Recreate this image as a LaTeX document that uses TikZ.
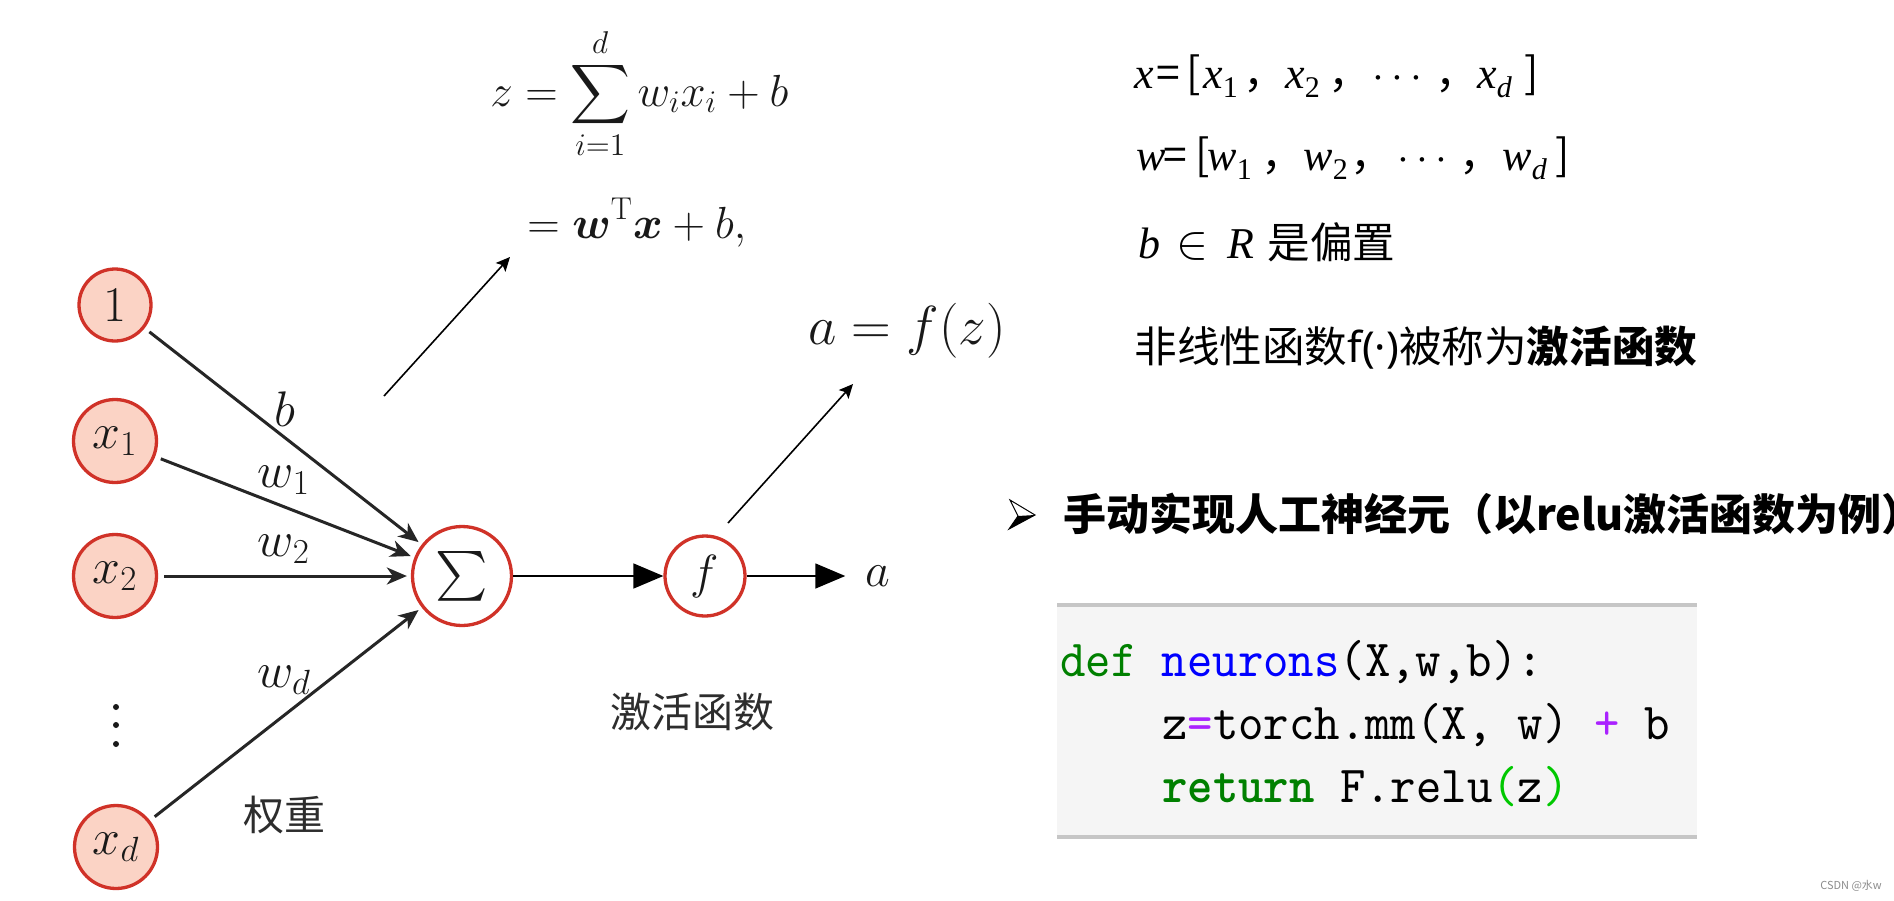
\RequirePackage{fix-cm}
\documentclass[tikz,border=0pt]{standalone}
\usepackage{amsmath}
\usepackage{fontspec}
\usetikzlibrary{arrows.meta}
\newfontfamily\cjk{Noto Sans CJK SC}
\newfontfamily\latsans{Noto Sans}
\newfontfamily\serifit{Liberation Serif}
\newfontfamily\codefont{lmmono10-regular.otf}[FakeStretch=0.93,BoldFont=lmmonolt10-bold.otf]
\newcommand\myit[1]{{\serifit\itshape\fontsize{22}{26}\selectfont #1}}
\newcommand\mysub[1]{\raisebox{-4.5pt}{\serifit\fontsize{15}{15}\selectfont #1}}
\newcommand\seg[2]{\makebox[#1][l]{#2}}
\definecolor{nred}{RGB}{208,50,40}
\definecolor{nfill}{RGB}{251,211,197}
\definecolor{arrgray}{RGB}{38,38,38}
\definecolor{txt}{RGB}{25,25,25}
\definecolor{cjkgray}{RGB}{45,45,45}
\definecolor{codebg}{RGB}{245,245,245}
\definecolor{codeline}{RGB}{198,198,198}
\definecolor{cgreen}{RGB}{0,128,0}
\definecolor{cblue}{RGB}{0,0,255}
\definecolor{cpurple}{RGB}{170,34,255}
\definecolor{cgreenb}{RGB}{0,200,0}
\begin{document}
\begin{tikzpicture}[x=0.5pt,y=-0.5pt,
  neuron/.style={circle,draw=nred,line width=1.65pt,fill=nfill,inner sep=0pt,
    minimum size=41.5pt,text=txt,font=\fontsize{25}{30}\selectfont},
  incon/.style={draw=arrgray,line width=1.5pt,shorten <=3pt,shorten >=2pt,
    -{Stealth[length=10pt,width=8.5pt,inset=3pt]}},
  flow/.style={draw=black,line width=0.8pt,-{Triangle[length=15pt,width=12.5pt]}},
  uparrow/.style={draw=black,line width=0.8pt,-{Stealth[length=7pt,width=6.5pt,inset=1.5pt]}},
  wlabel/.style={inner sep=0pt,text=txt,font=\fontsize{25}{30}\selectfont},
  cjklabel/.style={inner sep=0pt,text=cjkgray,font=\cjk\fontsize{20.5}{24}\selectfont},
  eqtext/.style={anchor=base west,inner sep=0pt,text=txt},
  rtext/.style={anchor=base west,inner sep=0pt,text=black,font=\cjk\fontsize{21.3}{25}\selectfont},
  codetext/.style={anchor=base west,inner sep=0pt,text=black,font=\codefont\fontsize{26}{30}\selectfont}
]
\useasboundingbox (0,0) rectangle (1894,900);
\fill[white] (0,0) rectangle (1894,900);

% ---- neurons
\node[neuron,minimum size=36pt] (n1) at (115,305) {$1$};
\node[neuron] (x1) at (115,441) {$x_1$};
\node[neuron] (x2) at (115,576) {$x_2$};
\node[neuron] (xd) at (116,847) {$x_d$};
\node[neuron,fill=white,minimum size=49.5pt] (sum) at (462,576) {$\sum$};
\node[neuron,fill=white,minimum size=40pt,font=\fontsize{24}{28}\selectfont] (f) at (705,576) {$f$};
\node[inner sep=10pt,text=txt,font=\fontsize{24}{28}\selectfont] (aout) at (878,576) {$a$};

% vertical dots
\foreach \yy in {707,725,744} \fill[txt] (116,\yy) circle (1.5pt);

% ---- connectors
\draw[incon] (n1) -- (sum);
\draw[incon] (x1) -- (sum);
\draw[incon] (x2) -- (sum);
\draw[incon] (xd) -- (sum);
\draw[flow] (sum) -- (f);
\draw[flow] (f) -- (aout);

% weight labels
\node[wlabel] (lb) at (285,409) {$b$};
\node[wlabel] (lw1) at (284,480) {$w_1$};
\node[wlabel] (lw2) at (284,549) {$w_2$};
\node[wlabel] (lwd) at (284,680) {$w_d$};
\node[cjklabel] (quanzhong) at (284,815) {权重};
\node[cjklabel] (jihuo) at (692,712) {激活函数};

% pointer arrows
\coordinate (u1s) at (384,396);
\coordinate (u1e) at (510,257);
\draw[uparrow] (u1s) -- (u1e);
\coordinate (u2s) at (728,523);
\coordinate (u2e) at (853,384);
\draw[uparrow] (u2s) -- (u2e);

% ---- formulas
\node[eqtext,font=\fontsize{22.5}{27}\selectfont] (eq1) at (490,106)
  {$\displaystyle z = \sum_{i=1}^{d} w_i x_i + b$};
\node[eqtext,font=\fontsize{22.5}{27}\selectfont] (eq2) at (527,238)
  {$\displaystyle = \boldsymbol{w}^{\mathrm{T}}\boldsymbol{x} + b,$};
\node[eqtext,font=\fontsize{27.5}{33}\selectfont] (eq3) at (808,344) {$a = f(z)$};

% ---- right text
\node[rtext] (r1) at (1134,88)
  {\seg{11pt}{\myit{x}}\seg{15pt}{=}\seg{8.5pt}{[}\seg{20pt}{\myit{x}\mysub{1}}\seg{21pt}{，}\seg{21.5pt}{\myit{x}\mysub{2}}\seg{22pt}{，}\seg{31.5pt}{$\cdots$}\seg{21pt}{，}\seg{23.5pt}{\myit{x}\mysub{\itshape d}}]};
\node[rtext] (r2) at (1136,170)
  {\seg{13.5pt}{\myit{w}}\seg{16pt}{=}\seg{6pt}{[}\seg{27pt}{\myit{w}\mysub{1}}\seg{21pt}{，}\seg{23.5pt}{\myit{w}\mysub{2}}\seg{23.5pt}{，}\seg{31pt}{$\cdots$}\seg{21.5pt}{，}\seg{26.5pt}{\myit{w}\mysub{\itshape d}}]};
\node[rtext] (r3) at (1138,258)
  {\seg{19pt}{\myit{b}}\seg{25.5pt}{\fontsize{24}{28}\selectfont$\in$}\seg{20pt}{\myit{R}}是偏置};
\node[rtext] (r4) at (1134,362)
  {非线性函数{\latsans f(·)}被称为{\bfseries 激活函数}};

% ---- heading with bullet
\draw[black,line width=0.5pt,fill=white] (1010,500) -- (1035,515) -- (1009,529) -- (1018,516) -- cycle;
\fill[black] (1018,516) -- (1035,515) -- (1009,529) -- cycle;
\node[anchor=base west,inner sep=0pt,text=black,font=\cjk\bfseries\fontsize{21.5}{25}\selectfont] (head) at (1063,530)
  {手动实现人工神经元（以relu激活函数为例）};

% ---- code box
\fill[codebg] (1057,605) rectangle (1697,837);
\draw[codeline,line width=2pt] (1057,605) -- (1697,605);
\draw[codeline,line width=2pt] (1057,837) -- (1697,837);
\node[codetext] (c1) at (1060,676)
  {\textcolor{cgreen}{def} \textcolor{cblue}{neurons}(X,w,b):};
\node[codetext] (c2) at (1162,739)
  {z\textcolor{cpurple}{=}torch.mm(X, w) \textcolor{cpurple}{+} b};
\node[codetext] (c3) at (1162,802)
  {\textcolor{cgreen}{\bfseries return} F.relu\textcolor{cgreenb}{(}z\textcolor{cgreenb}{)}};

% watermark
\node[inner sep=0pt,text=black!45,font=\cjk\fontsize{5.5}{6}\selectfont] (wm) at (1851,886) {CSDN @水w};
\end{tikzpicture}
\end{document}
